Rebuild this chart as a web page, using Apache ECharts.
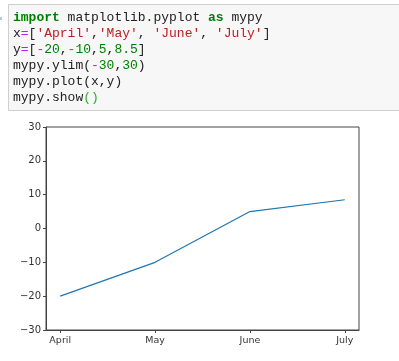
<!DOCTYPE html>
<html><head><meta charset="utf-8">
<script src="https://cdn.jsdelivr.net/npm/echarts@6/dist/echarts.min.js"></script>
<style>html,body{margin:0;padding:0;background:#fff}#c{width:399px;height:361px}</style>
</head><body><div id="c"></div>
<script>
const months = ['April', 'May', 'June', 'July'];
const values = [-20, -10, 5, 8.5];
const yTicks = [-30, -20, -10, 0, 10, 20, 30];
const codeLines = [
  "{kw|import} {t|matplotlib.pyplot} {kw|as} {t|mypy}",
  "{t|x}{op|=}{t|[}{s|'April'}{t|,}{s|'May'}{t|, }{s|'June'}{t|, }{s|'July'}{t|]}",
  "{t|y}{op|=}{t|[}{op|-}{n|20}{t|,}{op|-}{n|10}{t|,}{n|5}{t|,}{n|8.5}{t|]}",
  "{t|mypy.ylim(}{op|-}{n|30}{t|,}{n|30}{t|)}",
  "{t|mypy.plot(x,y)}",
  "{t|mypy.show}{br|()}"
];

const chart = echarts.init(document.getElementById('c'), null, {renderer: 'canvas'});
const mono = "Liberation Mono";
const rich = {
  kw: {fontFamily: mono, fontSize: 13, fontWeight: 'bold', fill: '#008000', color: '#008000'},
  t: {fontFamily: mono, fontSize: 13, fill: '#222', color: '#222'},
  op: {fontFamily: mono, fontSize: 13, fill: '#aa22ff', color: '#aa22ff'},
  s: {fontFamily: mono, fontSize: 13, fill: '#ba2121', color: '#ba2121'},
  n: {fontFamily: mono, fontSize: 13, fill: '#008000', color: '#008000'},
  br: {fontFamily: mono, fontSize: 13, fill: '#2fb02f', color: '#2fb02f'}
};
const graphics = [
  {type: 'rect', shape: {x: 8.5, y: 4.5, width: 400, height: 106}, style: {fill: '#f7f7f7', stroke: '#cfcfcf', lineWidth: 1}, z: 0},
  {type: 'rect', shape: {x: 0, y: 17, width: 2, height: 3}, style: {fill: '#b8c4e4'}, z: 1}
];
codeLines.forEach((ln, i) => {
  graphics.push({type: 'text', x: 13, y: 18 + 16 * i, z: 2,
    style: {text: ln, rich: rich, verticalAlign: 'middle', textVerticalAlign: 'middle', fontFamily: mono, fontSize: 13}});
});

chart.setOption({
  animation: false,
  graphic: graphics,
  grid: {left: 46, right: 40, top: 127, bottom: 31, show: true, borderColor: '#444', borderWidth: 1, backgroundColor: '#fff'},
  xAxis: {
    type: 'value', min: -0.15, max: 3.15,
    splitLine: {show: false},
    axisLine: {show: true, onZero: false, lineStyle: {color: '#444', width: 1}},
    axisTick: {show: true, inside: false, length: 3, customValues: months.map((m, i) => i), lineStyle: {color: '#444'}},
    axisLabel: {customValues: months.map((m, i) => i), formatter: v => months[Math.round(v)], fontFamily: 'DejaVu Sans', fontSize: 9.5, color: '#333', margin: 6}
  },
  yAxis: {
    type: 'value', min: -30, max: 30, interval: 10,
    splitLine: {show: false},
    axisLine: {show: true, onZero: false, lineStyle: {color: '#444', width: 1}},
    axisTick: {show: true, inside: false, length: 3, lineStyle: {color: '#444'}},
    axisLabel: {formatter: v => String(v).replace('-', '\u2212'), fontFamily: 'DejaVu Sans', fontSize: 10, color: '#333', margin: 5}
  },
  series: [{
    type: 'line', data: values.map((v, i) => [i, v]), showSymbol: false, symbol: 'none',
    lineStyle: {color: '#1f77b4', width: 1.2}
  }]
});
</script></body></html>
